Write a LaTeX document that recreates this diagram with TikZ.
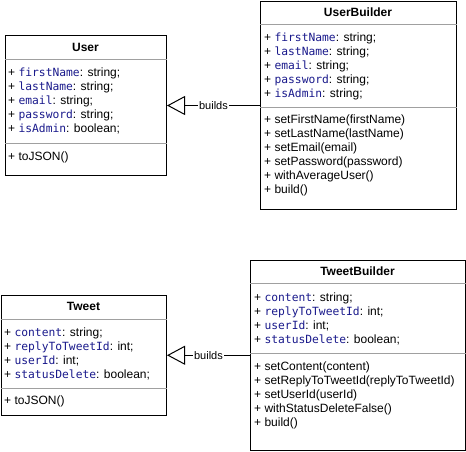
\documentclass[tikz,border=0pt]{standalone}
\usepackage{fontspec}
\setmainfont{Liberation Sans}
\newfontfamily\codefont{DejaVu Sans Mono}
\usetikzlibrary{arrows.meta}
\definecolor{codeblue}{RGB}{26,26,140}
\definecolor{sepgray}{RGB}{160,160,160}
\newcommand{\fld}[1]{{\codefont\fontsize{11.3}{13}\selectfont\color{codeblue}#1}}
\tikzset{
  box/.style={draw=black, line width=1pt, fill=white, rectangle, anchor=north west, inner sep=0pt},
  sepline/.style={draw=sepgray, line width=1pt},
  row/.style={anchor=west, inner sep=0pt, text height=8.6pt, text depth=2.6pt, font=\fontsize{12}{14}\selectfont},
  ttl/.style={inner sep=0pt, font=\bfseries\fontsize{12}{14}\selectfont},
  conn/.style={draw=black, line width=1pt, -{Triangle[open, length=18pt, width=19pt]}},
  lbl/.style={fill=white, inner sep=1pt, font=\fontsize{11}{13}\selectfont}
}
\begin{document}
\begin{tikzpicture}[x=1pt,y=-1pt]
\useasboundingbox (0,0) rectangle (466,451);
% ---------- User ----------
\node[box, minimum width=161pt, minimum height=140pt] (user) at (5,35) {};
\node[ttl] (userT) at (85.5,47) {User};
\draw[sepline] (user.west |- 0,59) -- (user.east |- 0,59);
\draw[sepline] (user.west |- 0,143) -- (user.east |- 0,143);
\node[row] (u1) at (8,73) {+ \fld{firstName}: string;};
\node[row] (u2) at (8,87) {+ \fld{lastName}: string;};
\node[row] (u3) at (8,101) {+ \fld{email}: string;};
\node[row] (u4) at (8,115) {+ \fld{password}: string;};
\node[row] (u5) at (8,129) {+ \fld{isAdmin}: boolean;};
\node[row] (u6) at (8,157) {+ toJSON()};
% ---------- UserBuilder ----------
\node[box, minimum width=196pt, minimum height=208.5pt] (ub) at (260,0.5) {};
\node[ttl] (ubT) at (358,12) {UserBuilder};
\draw[sepline] (ub.west |- 0,24) -- (ub.east |- 0,24);
\draw[sepline] (ub.west |- 0,107) -- (ub.east |- 0,107);
\node[row] (ub1) at (264,38) {+ \fld{firstName}: string;};
\node[row] (ub2) at (264,52) {+ \fld{lastName}: string;};
\node[row] (ub3) at (264,66) {+ \fld{email}: string;};
\node[row] (ub4) at (264,80) {+ \fld{password}: string;};
\node[row] (ub5) at (264,94) {+ \fld{isAdmin}: string;};
\node[row] (ub6) at (264,120.5) {+ setFirstName(firstName)};
\node[row] (ub7) at (264,134.5) {+ setLastName(lastName)};
\node[row] (ub8) at (264,148.5) {+ setEmail(email)};
\node[row] (ub9) at (264,162.5) {+ setPassword(password)};
\node[row] (ub10) at (264,176.5) {+ withAverageUser()};
\node[row] (ub11) at (264,190.5) {+ build()};
% ---------- Tweet ----------
\node[box, minimum width=165pt, minimum height=119.5pt] (tw) at (1,295) {};
\node[ttl] (twT) at (83.5,306) {Tweet};
\draw[sepline] (tw.west |- 0,319) -- (tw.east |- 0,319);
\draw[sepline] (tw.west |- 0,388) -- (tw.east |- 0,388);
\node[row] (t1) at (4,333) {+ \fld{content}: string;};
\node[row] (t2) at (4,347) {+ \fld{replyToTweetId}: int;};
\node[row] (t3) at (4,361) {+ \fld{userId}: int;};
\node[row] (t4) at (4,375) {+ \fld{statusDelete}: boolean;};
\node[row] (t5) at (4,401) {+ toJSON()};
% ---------- TweetBuilder ----------
\node[box, minimum width=215pt, minimum height=190pt] (tb) at (250,260) {};
\node[ttl] (tbT) at (357.5,271) {TweetBuilder};
\draw[sepline] (tb.west |- 0,283) -- (tb.east |- 0,283);
\draw[sepline] (tb.west |- 0,353) -- (tb.east |- 0,353);
\node[row] (tb1) at (254,298) {+ \fld{content}: string;};
\node[row] (tb2) at (254,312) {+ \fld{replyToTweetId}: int;};
\node[row] (tb3) at (254,326) {+ \fld{userId}: int;};
\node[row] (tb4) at (254,340) {+ \fld{statusDelete}: boolean;};
\node[row] (tb5) at (254,367) {+ setContent(content)};
\node[row] (tb6) at (254,381) {+ setReplyToTweetId(replyToTweetId)};
\node[row] (tb7) at (254,395) {+ setUserId(userId)};
\node[row] (tb8) at (254,409) {+ withStatusDeleteFalse()};
\node[row] (tb9) at (254,423) {+ build()};
% ---------- connectors ----------
\draw[conn] (ub.west |- user.east) -- node[lbl, pos=0.5] (lb1) {builds} (user.east);
\draw[conn] (tb.west |- tw.east) -- node[lbl, pos=0.5] (lb2) {builds} (tw.east);
\end{tikzpicture}
\end{document}
